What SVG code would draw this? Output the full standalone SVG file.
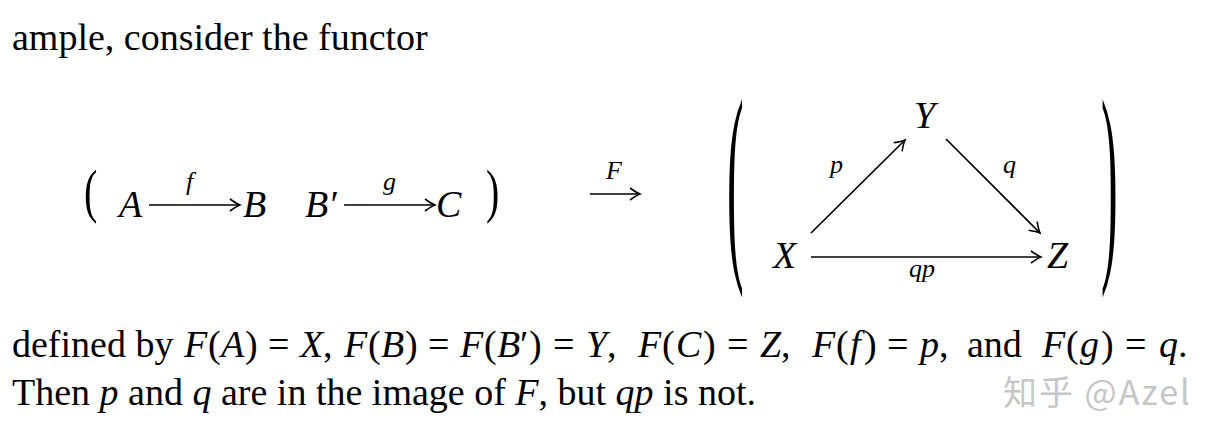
<svg xmlns="http://www.w3.org/2000/svg" width="1223" height="442" viewBox="0 0 1223 442">
<defs>
<style>
text{font-family:"Liberation Serif","Times New Roman",serif;fill:#000}
.t{font-size:38px}
.i{font-style:italic}
.m{font-size:38px;font-style:italic}
.l{font-size:26px;font-style:italic}
.wm{font-family:"Noto Sans CJK SC","Noto Sans",sans-serif;font-size:34px;letter-spacing:2px;fill:#c6c6c6}
.c line{stroke:#000;stroke-width:1.7;fill:none}
</style>
<marker id="ah" viewBox="-11 -7 13 14" refX="0" refY="0" markerWidth="13" markerHeight="14" markerUnits="userSpaceOnUse" orient="auto">
<path d="M-10,-6 Q-3.5,-1.3 0,0 Q-3.5,1.3 -10,6" fill="none" stroke="#000" stroke-width="1.6"/>
</marker>
</defs>
<rect width="1223" height="442" fill="#fff"/>

<text class="t" x="12" y="50">ample, consider the functor</text>

<!-- left parentheses -->
<text font-size="40" transform="translate(84,211.4) scale(1,1.49)">(</text>
<text font-size="40" transform="translate(486,211.4) scale(1,1.49)">)</text>

<g id="nA"><text class="m" x="119" y="217">A</text></g>
<g id="nB"><text class="m" x="243" y="217">B</text></g>
<g id="nB2"><text class="m" x="305" y="217">B′</text></g>
<g id="nC"><text class="m" x="436" y="217">C</text></g>

<!-- F arrow label -->
<text class="l" x="606" y="179">F</text>

<!-- big parentheses -->
<text font-size="50" transform="translate(727,251.3) scale(1,4.36)">(</text>
<text font-size="50" transform="translate(1101,251.3) scale(1,4.36)">)</text>

<g id="nY"><text class="m" x="914" y="128">Y</text></g>
<g id="nX"><text class="m" x="773" y="268">X</text></g>
<g id="nZ"><text class="m" x="1047" y="268">Z</text></g>

<g class="c" id="connectors">
<line x1="149" y1="205" x2="240" y2="205" marker-end="url(#ah)"/>
<line x1="344" y1="205" x2="435" y2="205" marker-end="url(#ah)"/>
<line x1="590" y1="194" x2="640" y2="194" marker-end="url(#ah)"/>
<line x1="811" y1="233" x2="905" y2="140" marker-end="url(#ah)"/>
<line x1="946" y1="139" x2="1040" y2="233" marker-end="url(#ah)"/>
<line x1="811" y1="257" x2="1041" y2="257" marker-end="url(#ah)"/>
</g>

<g id="labels">
<text class="l" x="186" y="190">f</text>
<text class="l" x="383" y="190">g</text>
<text class="l" x="830" y="173">p</text>
<text class="l" x="1003" y="173">q</text>
<text class="l" x="909" y="277">qp</text>
</g>

<text class="t" y="357"><tspan x="12">defined by</tspan><tspan x="184" class="i">F</tspan><tspan x="208">(</tspan><tspan x="221" class="i">A</tspan><tspan x="245">)</tspan><tspan x="268">=</tspan><tspan x="300" class="i">X</tspan><tspan x="323">,</tspan><tspan x="344" class="i">F</tspan><tspan x="368">(</tspan><tspan x="381" class="i">B</tspan><tspan x="405">)</tspan><tspan x="428">=</tspan><tspan x="460" class="i">F</tspan><tspan x="484">(</tspan><tspan x="497" class="i">B</tspan><tspan x="520">′</tspan><tspan x="529">)</tspan><tspan x="553">=</tspan><tspan x="586" class="i">Y</tspan><tspan x="607">,</tspan><tspan x="638" class="i">F</tspan><tspan x="662">(</tspan><tspan x="676" class="i">C</tspan><tspan x="703">)</tspan><tspan x="727">=</tspan><tspan x="760" class="i">Z</tspan><tspan x="781">,</tspan><tspan x="812" class="i">F</tspan><tspan x="836">(</tspan><tspan x="850" class="i">f</tspan><tspan x="864">)</tspan><tspan x="887">=</tspan><tspan x="920" class="i">p</tspan><tspan x="939">,</tspan><tspan x="967">and</tspan><tspan x="1042" class="i">F</tspan><tspan x="1066">(</tspan><tspan x="1080" class="i">g</tspan><tspan x="1101">)</tspan><tspan x="1125">=</tspan><tspan x="1159" class="i">q</tspan><tspan x="1178">.</tspan></text>
<text class="t" x="12" y="405">Then <tspan class="i">p</tspan> and <tspan class="i">q</tspan> are in the image of <tspan class="i">F</tspan>, but <tspan class="i">qp</tspan> is not.</text>

<text class="wm" x="1003" y="405">知乎 @Azel</text>
</svg>
